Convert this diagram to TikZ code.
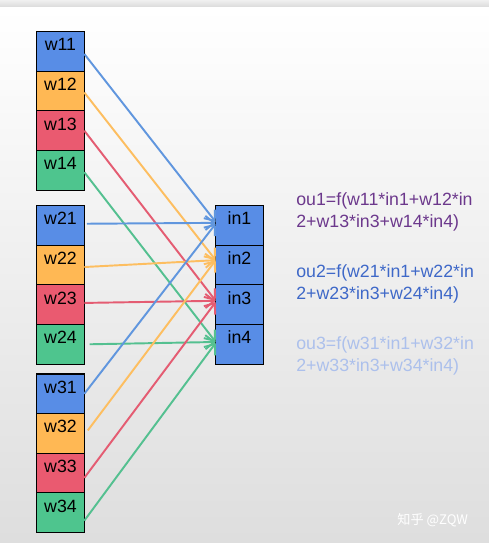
\documentclass[tikz,border=0pt]{standalone}
\usepackage{fontspec}
\setmainfont{Liberation Sans}
\newfontfamily\cjkfont{Noto Sans CJK SC}
\usetikzlibrary{arrows.meta, positioning}
\definecolor{wblue}{RGB}{88, 141, 230}
\definecolor{worange}{RGB}{255, 184, 84}
\definecolor{wred}{RGB}{234, 90, 112}
\definecolor{wgreen}{RGB}{78, 197, 142}
\definecolor{lblue}{RGB}{96, 150, 222}
\definecolor{lorange}{RGB}{253, 190, 96}
\definecolor{lred}{RGB}{228, 92, 114}
\definecolor{lgreen}{RGB}{84, 192, 144}
\definecolor{oupurple}{RGB}{108, 56, 140}
\definecolor{oublue}{RGB}{62, 104, 200}
\definecolor{oulight}{RGB}{172, 192, 236}

\begin{document}
\begin{tikzpicture}[
  x=0.02cm, y=-0.02cm,
  wbox/.style={rectangle, draw=black, line width=0.6pt, minimum width=0.952cm, minimum height=0.792cm,
    inner sep=0pt, outer sep=0pt, text height=0.386cm, text depth=0.406cm, font=\fontsize{10.1}{12}\selectfont},
  bluebox/.style={wbox, fill=wblue},
  orangebox/.style={wbox, fill=worange},
  redbox/.style={wbox, fill=wred},
  greenbox/.style={wbox, fill=wgreen},
  wire/.style={-{Straight Barb[length=5pt, width=8pt]}, line width=1.1pt},
  formula/.style={anchor=north west, align=left, inner sep=0pt, font=\fontsize{10.1}{12.6}\selectfont}
]

  % background
  \useasboundingbox (0, 0) rectangle (489, 543);
  \shade[top color=white, bottom color=black!13] (0, 7) rectangle (489, 543);
  \shade[top color=black!6, bottom color=black!14] (0, 0) rectangle (489, 7);

  % weights
  \node[bluebox] (w11) at (60.5, 51.5) {w11};
  \node[orangebox, below=0pt of w11] (w12) {w12};
  \node[redbox, below=0pt of w12] (w13) {w13};
  \node[greenbox, below=0pt of w13] (w14) {w14};

  \node[bluebox] (w21) at (60.5, 225.5) {w21};
  \node[orangebox, below=0pt of w21] (w22) {w22};
  \node[redbox, below=0pt of w22] (w23) {w23};
  \node[greenbox, below=0pt of w23] (w24) {w24};

  \node[bluebox] (w31) at (60.5, 393.8) {w31};
  \node[orangebox, below=0pt of w31] (w32) {w32};
  \node[redbox, below=0pt of w32] (w33) {w33};
  \node[greenbox, below=0pt of w33] (w34) {w34};

  % inputs
  \node[bluebox] (in1) at (239.5, 225.5) {in1};
  \node[bluebox, below=0pt of in1] (in2) {in2};
  \node[bluebox, below=0pt of in2] (in3) {in3};
  \node[bluebox, below=0pt of in3] (in4) {in4};

  % wires
  \draw[wire, lblue] ([yshift=-1.4pt]w11.east) -- ([yshift=2pt]in1.west);
  \draw[wire, lorange] ([yshift=-0.8pt]w12.east) -- ([yshift=2.8pt]in2.west);
  \draw[wire, lred] (w13.east) -- ([yshift=2.2pt]in3.west);
  \draw[wire, lgreen] ([yshift=-1.1pt]w14.east) -- ([yshift=1.3pt]in4.west);

  \draw[wire, lblue] ([xshift=1.5pt, yshift=1pt]w21.east) -- ([yshift=1.5pt]in1.west);
  \draw[wire, lorange] ([yshift=-1.1pt]w22.east) -- ([yshift=2.8pt]in2.west);
  \draw[wire, lred] ([yshift=1pt]w23.east) -- ([yshift=2.2pt]in3.west);
  \draw[wire, lgreen] ([xshift=3pt]w24.east) -- ([yshift=1.3pt]in4.west);

  \draw[wire, lblue] (w31.east) -- ([yshift=1pt]in1.west);
  \draw[wire, lorange] ([xshift=2pt, yshift=1.7pt]w32.east) -- ([yshift=2.8pt]in2.west);
  \draw[wire, lred] ([yshift=-2.8pt]w33.east) -- ([yshift=1.5pt]in3.west);
  \draw[wire, lgreen] ([yshift=-4.6pt]w34.east) -- ([yshift=0.8pt]in4.west);

  % outputs
  \node[formula, text=oupurple] (ou1) at (296, 192) {ou1=f(w11*in1+w12*in\\2+w13*in3+w14*in4)};
  \node[formula, text=oublue] (ou2) at (296, 264) {ou2=f(w21*in1+w22*in\\2+w23*in3+w24*in4)};
  \node[formula, text=oulight] (ou3) at (296, 336) {ou3=f(w31*in1+w32*in\\2+w33*in3+w34*in4)};

  % watermark
  \node[text=white, font=\cjkfont\fontsize{7.5}{9}\selectfont, anchor=west, inner sep=0pt] (mark) at (397, 520) {知乎 @ZQW};

\end{tikzpicture}
\end{document}
